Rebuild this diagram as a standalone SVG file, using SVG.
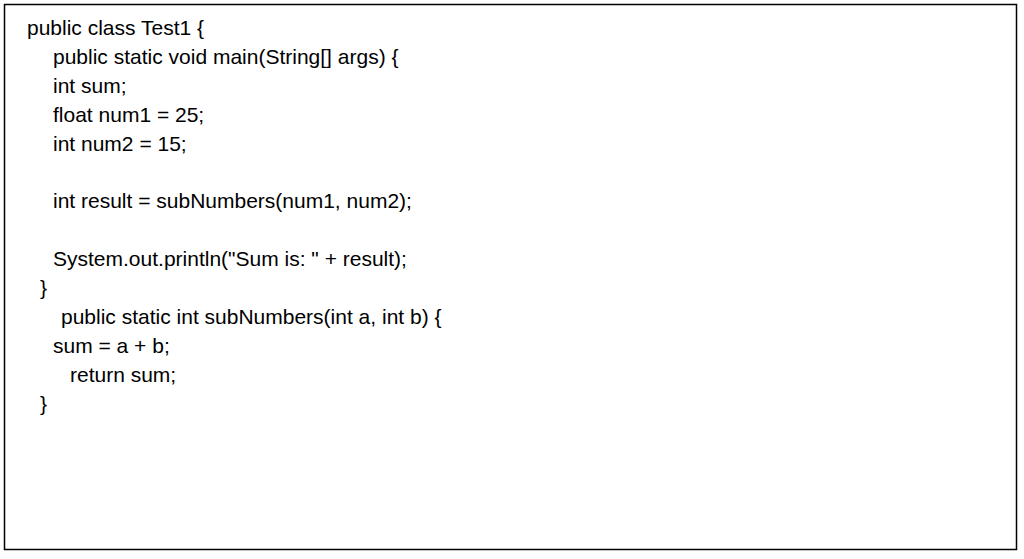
<svg xmlns="http://www.w3.org/2000/svg" width="1024" height="559" viewBox="0 0 1024 559">
<style>
text{font-family:"Liberation Sans","Open Sans",sans-serif;font-size:21px;fill:#000}
</style>
<rect width="1024" height="559" fill="#fff"/>
<g id="codebox">
<rect x="4.5" y="4.5" width="1012" height="545" fill="none" stroke="#000" stroke-width="1.5"/>
<text x="27" y="35">public class Test1 {</text>
<text x="53" y="64">public static void main(String[] args) {</text>
<text x="53" y="93">int sum;</text>
<text x="53" y="122">float num1 = 25;</text>
<text x="53" y="151">int num2 = 15;</text>
<text x="53" y="208">int result = subNumbers(num1, num2);</text>
<text x="53" y="266">System.out.println("Sum is: " + result);</text>
<text x="40" y="295">}</text>
<text x="61" y="324">public static int subNumbers(int a, int b) {</text>
<text x="53" y="353">sum = a + b;</text>
<text x="70" y="382">return sum;</text>
<text x="40" y="411">}</text>
</g>
</svg>
